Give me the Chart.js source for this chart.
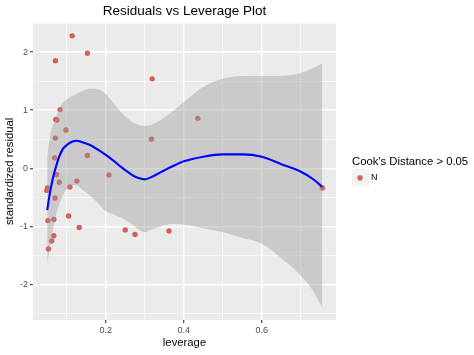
<!DOCTYPE html>
<html><head><meta charset="utf-8">
<script src="https://cdn.jsdelivr.net/npm/chart.js@4/dist/chart.umd.min.js"></script>
<style>html,body{margin:0;padding:0;background:#fff;}</style>
</head><body>
<canvas id="c" width="474" height="355"></canvas>
<script>
// Observations
const leverage = [0.114,0.153,0.071,0.319,0.083,0.072,0.075,0.098,0.071,0.317,0.069,0.153,0.436,0.074,0.049,0.051,0.081,0.108,0.126,0.208,0.070,0.052,0.067,0.105,0.132,0.067,0.0615,0.053,0.250,0.275,0.362,0.755];
const stdResidual = [2.28,1.98,1.85,1.54,1.01,0.84,0.83,0.66,0.52,0.50,0.18,0.22,0.86,-0.11,-0.38,-0.34,-0.24,-0.32,-0.22,-0.115,-0.51,-0.90,-0.88,-0.82,-1.02,-1.16,-1.25,-1.39,-1.06,-1.14,-1.08,-0.34];
// Loess smoother and its confidence band
const smoothLeverage = [0.050,0.055,0.060,0.065,0.070,0.080,0.090,0.100,0.115,0.125,0.140,0.160,0.180,0.200,0.220,0.240,0.260,0.280,0.300,0.320,0.340,0.370,0.400,0.450,0.500,0.550,0.600,0.650,0.700,0.730,0.755];
const smoothFit   = [-0.72,-0.50,-0.32,-0.16,-0.03,0.19,0.33,0.40,0.46,0.475,0.45,0.40,0.32,0.23,0.13,0.02,-0.08,-0.16,-0.19,-0.14,-0.07,0.03,0.12,0.20,0.24,0.24,0.20,0.07,-0.06,-0.18,-0.32];
const smoothUpper = [0.21,0.45,0.64,0.74,0.82,1.02,1.13,1.19,1.25,1.28,1.33,1.37,1.36,1.28,1.12,0.96,0.84,0.76,0.73,0.76,0.83,0.97,1.14,1.40,1.54,1.59,1.59,1.59,1.64,1.72,1.81];
const smoothLower = [-1.64,-1.45,-1.26,-1.05,-0.88,-0.64,-0.47,-0.36,-0.29,-0.29,-0.37,-0.47,-0.60,-0.74,-0.79,-0.85,-0.93,-1.03,-1.10,-1.05,-1.00,-0.96,-0.97,-1.03,-1.10,-1.20,-1.30,-1.55,-1.85,-2.10,-2.40];
// Axes
const xMajorTicks = [0.2,0.4,0.6];
const xTickLabels = ['0.2','0.4','0.6'];
const xMinorTicks = [0.1,0.3,0.5,0.7];
const yMajorTicks = [-2,-1,0,1,2];
const yTickLabels = ['-2','-1','0','1','2'];
const yMinorTicks = [-2.5,-1.5,-0.5,0.5,1.5,2.5];
const xLimits = [0.0136, 0.79];
const yLimits = [-2.611, 2.506];
const legendTitle = "Cook's Distance > 0.05";
const legendLabel = 'N';

const pointColor = '#D55F5A';
const FONT = 'Liberation Sans, Arial, Helvetica, sans-serif';

const keyCanvas = document.createElement('canvas');
keyCanvas.width = 17; keyCanvas.height = 17;
(function(){const k=keyCanvas.getContext('2d');k.fillStyle='#F2F2F2';k.fillRect(0,0,17,17);k.fillStyle=pointColor;k.beginPath();k.arc(8.5,8.5,2.7,0,Math.PI*2);k.fill();})();

const pts = leverage.map((v,i)=>({x:v,y:stdResidual[i]}));
const fitPts = smoothLeverage.map((v,i)=>({x:v,y:smoothFit[i]}));
const upPts = smoothLeverage.map((v,i)=>({x:v,y:smoothUpper[i]}));
const loPts = smoothLeverage.map((v,i)=>({x:v,y:smoothLower[i]}));

function isIn(arr,v){return arr.some(a=>Math.abs(a-v)<1e-9);}
function gridOpts(major){
  return {
    color: c => isIn(major, c.tick ? c.tick.value : NaN) ? '#FFFFFF' : 'rgba(255,255,255,0.9)',
    lineWidth: c => isIn(major, c.tick ? c.tick.value : NaN) ? 1.4 : 0.7,
    tickColor: c => isIn(major, c.tick ? c.tick.value : NaN) ? '#333333' : 'rgba(0,0,0,0)',
    tickLength: 3,
    tickWidth: 1.1,
    drawTicks: true
  };
}

const bgPlugin = {
  id:'panelBg',
  beforeDraw(chart){
    const a = chart.chartArea, ctx = chart.ctx;
    ctx.save(); ctx.fillStyle='#EBEBEB'; ctx.fillRect(a.left,a.top,a.right-a.left,a.bottom-a.top); ctx.restore();
  },
  afterLayout(chart){
    const lg = chart.legend;
    if(lg){ lg.left = 352; lg.right = 474; lg.top = 156.3; lg.bottom = 355; }
  }
};

new Chart(document.getElementById('c'), {
  type: 'scatter',
  data: {
    datasets: [
      {label:'fit', data: fitPts, showLine:true, borderColor:'#0000FF', borderWidth:2.1, pointRadius:0, fill:false, cubicInterpolationMode:'monotone', order:0},
      {label:'upper', data: upPts, showLine:true, borderWidth:0, borderColor:'rgba(0,0,0,0)', pointRadius:0, backgroundColor:'rgba(153,153,153,0.4)', fill:'+1', cubicInterpolationMode:'monotone', order:1},
      {label:'lower', data: loPts, showLine:true, borderWidth:0, borderColor:'rgba(0,0,0,0)', pointRadius:0, fill:false, cubicInterpolationMode:'monotone', order:2},
      {label:legendLabel, data: pts, pointRadius:2.7, pointHoverRadius:2.7, pointBackgroundColor:pointColor, pointBorderWidth:0, backgroundColor:pointColor, borderColor:pointColor, showLine:false, order:3}
    ]
  },
  options: {
    responsive:false, animation:false, devicePixelRatio:1,
    layout:{padding:{left:0,right:138,top:0,bottom:0}},
    plugins:{
      filler:{drawTime:'beforeDatasetDraw'},
      tooltip:{enabled:false},
      title:{display:true, text:'Residuals vs Leverage Plot', fullSize:false, color:'#000000', font:{family:FONT,size:13.5,weight:'normal'}, padding:{top:3.5,bottom:3}},
      legend:{
        display:true, position:'chartArea', align:'start',
        title:{display:true, text:legendTitle, position:'start', color:'#000000', font:{family:FONT,size:11.3}, padding:{top:0,bottom:2}},
        labels:{usePointStyle:true, pointStyle:keyCanvas, pointStyleWidth:13, boxWidth:13, color:'#000000', font:{family:FONT,size:9}, padding:1.5,
          filter: item => item.datasetIndex === 3}
      }
    },
    scales:{
      x:{type:'linear', position:'bottom', min:xLimits[0], max:xLimits[1],
        afterBuildTicks: s => { s.ticks = xMinorTicks.concat(xMajorTicks).sort((a,b)=>a-b).map(v=>({value:v})); },
        afterFit: s => { s.height = 35; },
        grid: gridOpts(xMajorTicks),
        border:{display:false},
        ticks:{autoSkip:false, maxRotation:0, padding:2, color:'#4D4D4D', font:{family:FONT,size:9},
          callback: v => { const i = xMajorTicks.findIndex(a=>Math.abs(a-v)<1e-9); return i>=0 ? xTickLabels[i] : ''; }},
        title:{display:true, text:'leverage', color:'#000000', font:{family:FONT,size:11.3}, padding:{top:0,bottom:5.2}}
      },
      y:{type:'linear', position:'left', min:yLimits[0], max:yLimits[1],
        afterBuildTicks: s => { s.ticks = yMinorTicks.concat(yMajorTicks).sort((a,b)=>a-b).map(v=>({value:v})); },
        afterFit: s => { s.width = 33; },
        grid: gridOpts(yMajorTicks),
        border:{display:false},
        ticks:{autoSkip:false, padding:2, color:'#4D4D4D', font:{family:FONT,size:9},
          callback: v => { const i = yMajorTicks.findIndex(a=>Math.abs(a-v)<1e-9); return i>=0 ? yTickLabels[i] : ''; }},
        title:{display:true, text:'standardized residual', color:'#000000', font:{family:FONT,size:11.3}, padding:{top:3,bottom:0}}
      }
    }
  },
  plugins:[bgPlugin]
});
</script>
</body></html>
